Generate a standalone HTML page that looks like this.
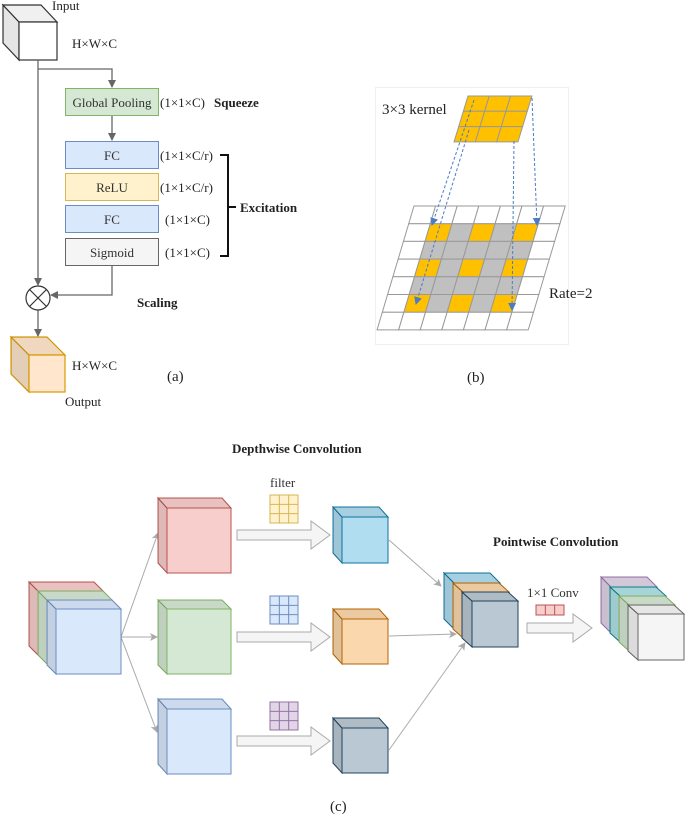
<!DOCTYPE html>
<html><head><meta charset="utf-8"><style>
html,body{margin:0;padding:0;background:#fff;}
svg{display:block;font-family:"Liberation Serif",serif;}
</style></head><body>
<svg id="s" width="685" height="817" viewBox="0 0 685 817" xmlns="http://www.w3.org/2000/svg">
<defs>
<marker id="ag" markerWidth="8" markerHeight="8" refX="7" refY="4" orient="auto" markerUnits="userSpaceOnUse"><path d="M0,0 L8,4 L0,8 Z" fill="#666"/></marker>
<marker id="al" markerWidth="8" markerHeight="8" refX="7" refY="4" orient="auto" markerUnits="userSpaceOnUse"><path d="M0,0 L8,4 L0,8 L2,4 Z" fill="#aaa"/></marker>
<marker id="ab" markerWidth="8" markerHeight="8" refX="7" refY="4" orient="auto" markerUnits="userSpaceOnUse"><path d="M0,0 L8,4 L0,8 Z" fill="#4a7cc7"/></marker>
</defs>
<g id="g"></g>

<!-- (a) -->
<g stroke="#666" stroke-width="1.3" fill="none">
<line x1="38" y1="60" x2="38" y2="285" marker-end="url(#ag)"/>
<polyline points="38,69 112,69 112,87" marker-end="url(#ag)"/>
<line x1="112" y1="115" x2="112" y2="140" marker-end="url(#ag)"/>
<polyline points="112,265 112,295 51,295" marker-end="url(#ag)"/>
<line x1="38" y1="310" x2="38" y2="336" marker-end="url(#ag)"/>
</g>
<circle cx="38" cy="298" r="12" fill="#fff" stroke="#333" stroke-width="1.2"/>
<line x1="29.5" y1="289.5" x2="46.5" y2="306.5" stroke="#333" stroke-width="1.2"/>
<line x1="46.5" y1="289.5" x2="29.5" y2="306.5" stroke="#333" stroke-width="1.2"/>
<rect x="65.5" y="88.5" width="93" height="27" fill="#d5e8d4" stroke="#82b366"/>
<rect x="65.5" y="141.5" width="93" height="27" fill="#dae8fc" stroke="#6c8ebf"/>
<rect x="65.5" y="173.5" width="93" height="27" fill="#fff2cc" stroke="#d6b656"/>
<rect x="65.5" y="205.5" width="93" height="27" fill="#dae8fc" stroke="#6c8ebf"/>
<rect x="65.5" y="238.5" width="93" height="27" fill="#f5f5f5" stroke="#666"/>
<g font-size="13" fill="#333" text-anchor="middle">
<text x="112" y="107">Global Pooling</text>
<text x="112" y="160">FC</text>
<text x="112" y="192">ReLU</text>
<text x="112" y="224">FC</text>
<text x="112" y="257">Sigmoid</text>
</g>
<g font-size="13" fill="#222">
<text x="160" y="107">(1×1×C)</text>
<text x="160" y="160">(1×1×C/r)</text>
<text x="160" y="192">(1×1×C/r)</text>
<text x="165" y="224">(1×1×C)</text>
<text x="165" y="257">(1×1×C)</text>
<text x="72" y="48">H×W×C</text>
<text x="72" y="370">H×W×C</text>
<text x="52" y="10">Input</text>
<text x="65" y="406">Output</text>
<text x="167" y="381" font-size="15">(a)</text>
<text x="214" y="107" font-weight="bold">Squeeze</text>
<text x="240" y="212" font-weight="bold">Excitation</text>
<text x="137" y="307" font-weight="bold">Scaling</text>
</g>
<polyline points="220,155 228,155 228,256 220,256" fill="none" stroke="#111" stroke-width="2"/>
<line x1="228" y1="207" x2="236" y2="207" stroke="#111" stroke-width="2"/>

<!-- (b) -->
<rect x="375.5" y="87.5" width="193" height="257" fill="none" stroke="#f0f0f0"/>
<text x="382" y="114" font-size="15" fill="#222">3×3 kernel</text>
<text x="549" y="298" font-size="15" fill="#222">Rate=2</text>
<text x="467" y="382" font-size="15" fill="#222">(b)</text>
<g id="bg"></g>

<!-- (c) -->
<text x="232" y="453" font-size="13" font-weight="bold" fill="#222">Depthwise Convolution</text>
<text x="493" y="546" font-size="13" font-weight="bold" fill="#222">Pointwise Convolution</text>
<text x="270" y="487" font-size="13" fill="#333">filter</text>
<text x="527" y="597" font-size="13" fill="#333">1×1 Conv</text>
<text x="330" y="811" font-size="15" fill="#222">(c)</text>
<g stroke="#aaa" stroke-width="1" fill="none">
<line x1="121" y1="637" x2="158" y2="533" marker-end="url(#al)"/>
<line x1="121" y1="637" x2="157" y2="637" marker-end="url(#al)"/>
<line x1="121" y1="637" x2="157" y2="732" marker-end="url(#al)"/>
<line x1="389" y1="540" x2="441" y2="586" marker-end="url(#al)"/>
<line x1="389" y1="636" x2="456" y2="634" marker-end="url(#al)"/>
<line x1="389" y1="750" x2="465" y2="643" marker-end="url(#al)"/>
</g>
<g fill="#f5f5f5" stroke="#aaa" stroke-width="1">
<path d="M237,530 L311,530 L311,521 L330,535 L311,549 L311,540 L237,540 Z"/>
<path d="M237,632 L311,632 L311,623 L330,637 L311,651 L311,642 L237,642 Z"/>
<path d="M237,736 L311,736 L311,727 L330,741 L311,755 L311,746 L237,746 Z"/>
<path d="M527,623 L573,623 L573,614 L592,628 L573,642 L573,633 L527,633 Z"/>
</g>
<g id="cg"></g>
</svg>
<script>
var NS="http://www.w3.org/2000/svg";
function el(p,t,a){var e=document.createElementNS(NS,t);for(var k in a)e.setAttribute(k,a[k]);p.appendChild(e);return e;}
var g=document.getElementById('cg'), ga=document.getElementById('g');
function cube(p,x,y,w,h,dx,dy,f,s,sw){
 sw=sw||1;
 el(p,'polygon',{points:[x,y,x-dx,y-dy,x-dx,y+h-dy,x,y+h].join(','),fill:f,stroke:s,'stroke-width':sw});
 el(p,'polygon',{points:[x,y,x-dx,y-dy,x+w-dx,y-dy,x+w,y].join(','),fill:f,stroke:s,'stroke-width':sw});
 el(p,'polygon',{points:[x,y,x-dx,y-dy,x-dx,y+h-dy,x,y+h].join(','),fill:'#000','fill-opacity':0.1,stroke:'none'});
 el(p,'polygon',{points:[x,y,x-dx,y-dy,x+w-dx,y-dy,x+w,y].join(','),fill:'#000','fill-opacity':0.06,stroke:'none'});
 el(p,'rect',{x:x,y:y,width:w,height:h,fill:f,stroke:s,'stroke-width':sw});
}
// (a)
cube(ga,19,22,38,38,16,17,'#fff','#333',1.2);
cube(ga,29,355,36,37,18,18,'#ffe6cc','#d79b00',1.2);
// (c)
var R=['#f8cecc','#b85450'],G=['#d5e8d4','#82b366'],B=['#dae8fc','#6c8ebf'],
 LB=['#b1ddf0','#10739e'],O=['#fad7ac','#b46504'],D=['#bac8d3','#23445d'],
 P=['#e1d5e7','#9673a6'],T=['#b0e3e6','#0e8088'],W=['#f5f5f5','#666666'];
cube(g,38,591,65,64,9,9,R[0],R[1]);
cube(g,47,600,65,64,9,9,G[0],G[1]);
cube(g,56,609,65,65,9,9,B[0],B[1]);
cube(g,167,508,64,65,9,10,R[0],R[1]);
cube(g,167,609,64,65,9,9,G[0],G[1]);
cube(g,167,709,64,65,9,10,B[0],B[1]);
cube(g,342,517,46,46,9,10,LB[0],LB[1]);
cube(g,342,619,46,45,9,10,O[0],O[1]);
cube(g,342,728,46,45,9,10,D[0],D[1]);
cube(g,454,583,46,46,10,10,LB[0],LB[1]);
cube(g,463,592,46,46,10,9,O[0],O[1]);
cube(g,472,601,46,46,10,9,D[0],D[1]);
cube(g,611,587,46,46,10,10,P[0],P[1]);
cube(g,620,596,46,46,10,9,T[0],T[1]);
cube(g,629,605,46,46,10,9,G[0],G[1]);
cube(g,638,614,46,46,10,9,W[0],W[1]);
function grid(x,y,w,h,c,r,f,s){el(g,'rect',{x:x,y:y,width:w,height:h,fill:f,stroke:s});
 for(var i=1;i<c;i++)el(g,'line',{x1:x+w*i/c,y1:y,x2:x+w*i/c,y2:y+h,stroke:s});
 for(var j=1;j<r;j++)el(g,'line',{x1:x,y1:y+h*j/r,x2:x+w,y2:y+h*j/r,stroke:s});}
grid(270,495,28,28,3,3,'#fff2cc','#d6b656');
grid(270,596,28,28,3,3,'#dae8fc','#6c8ebf');
grid(270,702,28,28,3,3,'#e1d5e7','#9673a6');
grid(536,605,28,10,3,1,'#f8cecc','#b85450');
// (b)
var bg=document.getElementById('bg');
function pt(x0,y0,cw,ch,sh,c,r){return [x0+c*cw-r*ch*sh, y0+r*ch];}
// big grid: top-left (414,206), cell w 21.6, h 17.7, shear
var X0=414,Y0=206,CW=21.6,CH=17.7,SH=37/124;
for(var r=0;r<7;r++)for(var c=0;c<7;c++){
 var f='#fff'; if(r>=1&&r<=5&&c>=1&&c<=5){f=(r%2==1&&c%2==1)?'#ffc000':'#c0c0c0';}
 var a=pt(X0,Y0,CW,CH,SH,c,r),b=pt(X0,Y0,CW,CH,SH,c+1,r),d=pt(X0,Y0,CW,CH,SH,c+1,r+1),e=pt(X0,Y0,CW,CH,SH,c,r+1);
 el(bg,'polygon',{points:[a,b,d,e].join(','),fill:f,stroke:'#999','stroke-width':1});}
// kernel: top-left (468,96), cell w 21.3, h 15.3
for(var r=0;r<3;r++)for(var c=0;c<3;c++){
 var K=function(cc,rr){return [468+cc*21.3-rr*15.3*(14/46), 96+rr*15.3];};
 el(bg,'polygon',{points:[K(c,r),K(c+1,r),K(c+1,r+1),K(c,r+1)].join(','),fill:'#ffc000',stroke:'#999','stroke-width':1});}
var lines=[[474,100,432,225],[469,130,416,304],[514,141,512,310],[532,98,537,225]];
lines.forEach(function(l){el(bg,'line',{x1:l[0],y1:l[1],x2:l[2],y2:l[3],stroke:'#4a7cc7','stroke-width':1,'stroke-dasharray':'3,2','marker-end':'url(#ab)'});});
</script>
</body></html>
